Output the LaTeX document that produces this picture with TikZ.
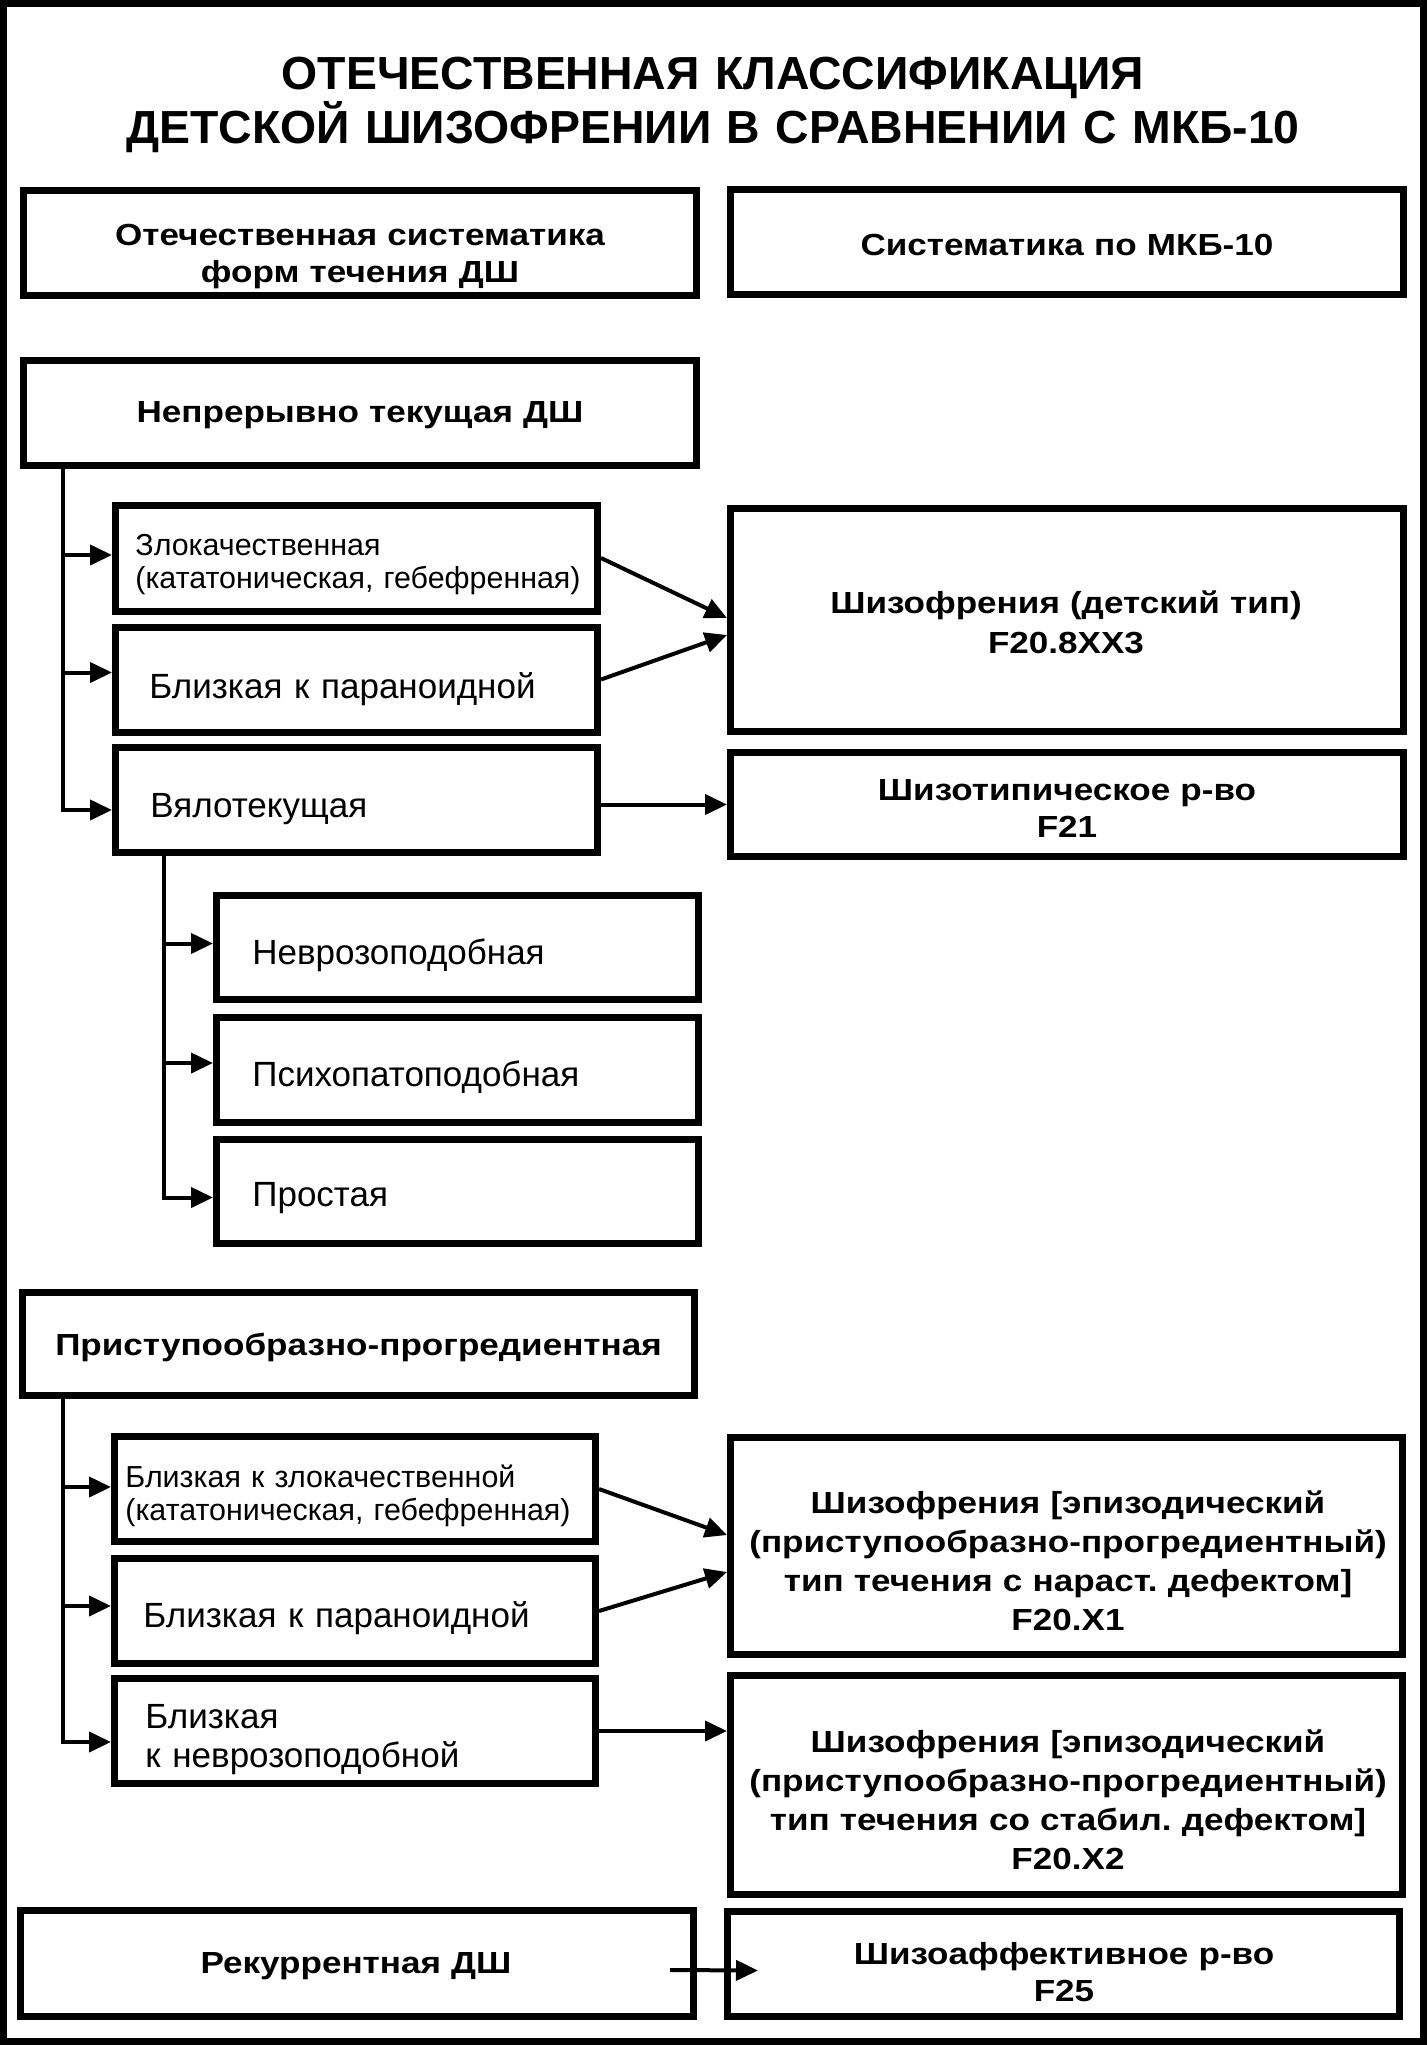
\documentclass[tikz,border=0pt]{standalone}
\usepackage{fontspec}
\setmainfont{Liberation Sans}
\newfontfamily\hdfont[FakeStretch=1.15]{Liberation Sans Bold}
\usetikzlibrary{arrows.meta}
\frenchspacing
\begin{document}
\frenchspacing
\begin{tikzpicture}[x=0.5pt,y=-0.5pt,
  frame/.style={line width=3.5pt},
  box/.style={draw, line width=3.5pt, outer sep=1.75pt, inner sep=0pt},
  ctext/.style={inner sep=0pt, anchor=base, align=center, text width=330pt,
    font=\hdfont\fontsize{15.25}{19.5}\selectfont},
  ltext/.style={inner sep=0pt, anchor=base west, align=left, text width=235pt,
    font=\fontsize{17.5}{19.5}\selectfont},
  lsmall/.style={font=\fontsize{15.2}{16.5}\selectfont},
  arr/.style={line width=2pt, -{Triangle[length=11pt,width=10pt]}}
]
\fill[white] (0,0) rectangle (1428,2045);
\useasboundingbox (0,0) rectangle (1428,2045);
\draw[frame] (3.5,3.5) rectangle (1423,2041.5);

\node[inner sep=0pt, anchor=base, align=center, text width=700pt,
  font=\bfseries\fontsize{23.2}{27.5}\selectfont] (title) at (713,89)
  {ОТЕЧЕСТВЕННАЯ КЛАССИФИКАЦИЯ\\ДЕТСКОЙ ШИЗОФРЕНИИ В СРАВНЕНИИ С МКБ-10};

% ---------- boxes ----------
\node[box, minimum width=336.5pt, minimum height=52.5pt] (H1) at (360,243) {};
\node[box, minimum width=336.5pt, minimum height=52.5pt] (H2) at (1067,242) {};
\node[box, minimum width=336.5pt, minimum height=52.5pt] (A) at (360,413) {};
\node[box, minimum width=241pt, minimum height=53pt] (A1) at (356.5,558) {};
\node[box, minimum width=241pt, minimum height=52.5pt] (A2) at (356.5,679.5) {};
\node[box, minimum width=241pt, minimum height=52.5pt] (A3) at (356.5,800) {};
\node[box, minimum width=241pt, minimum height=52pt] (A31) at (457.5,947.5) {};
\node[box, minimum width=241pt, minimum height=52.5pt] (A32) at (457.5,1070) {};
\node[box, minimum width=241pt, minimum height=52pt] (A33) at (457.5,1191.5) {};
\node[box, minimum width=336.5pt, minimum height=111.5pt] (R1) at (1067,620) {};
\node[box, minimum width=336.5pt, minimum height=52pt] (R2) at (1067,804.5) {};
\node[box, minimum width=336pt, minimum height=51.5pt] (B) at (358.5,1344) {};
\node[box, minimum width=240.5pt, minimum height=52.5pt] (B1) at (355,1489) {};
\node[box, minimum width=240.5pt, minimum height=52.5pt] (B2) at (355,1611) {};
\node[box, minimum width=240.5pt, minimum height=52.5pt] (B3) at (355,1731) {};
\node[box, minimum width=336pt, minimum height=108.5pt] (R3) at (1066.5,1546) {};
\node[box, minimum width=336pt, minimum height=109.5pt] (R4) at (1066.5,1785) {};
\node[box, minimum width=336.5pt, minimum height=53pt] (C) at (357,1963.5) {};
\node[box, minimum width=336pt, minimum height=52.5pt] (R5) at (1063.5,1964) {};

% ---------- texts ----------
\node[ctext, font=\hdfont\fontsize{15.25}{18.5}\selectfont] (tH1) at (360,245) {Отечественная систематика\\форм течения ДШ};
\node[ctext] (tH2) at (1067,255) {Систематика по МКБ-10};
\node[ctext] (tA) at (360,422) {Непрерывно текущая ДШ};
\node[ltext, lsmall] (tA1) at (135,555) {\mbox{Злокачественная}\\\mbox{(кататоническая, гебефренная)}};
\node[ltext] (tA2) at (149,698) {\mbox{Близкая к параноидной}};
\node[ltext] (tA3) at (150,817) {\mbox{Вялотекущая}};
\node[ltext] (tA31) at (252,964) {\mbox{Неврозоподобная}};
\node[ltext] (tA32) at (252,1086) {\mbox{Психопатоподобная}};
\node[ltext] (tA33) at (252,1206) {\mbox{Простая}};
\node[ctext, font=\hdfont\fontsize{15.25}{20}\selectfont] (tR1) at (1066,613) {Шизофрения (детский тип)\\F20.8XX3};
\node[ctext, font=\hdfont\fontsize{15.25}{18.5}\selectfont] (tR2) at (1067,800) {Шизотипическое р-во\\F21};
\node[ctext] (tB) at (358.5,1355) {Приступообразно-прогредиентная};
\node[ltext, lsmall] (tB1) at (125,1487) {\mbox{Близкая к злокачественной}\\\mbox{(кататоническая, гебефренная)}};
\node[ltext] (tB2) at (143,1627) {\mbox{Близкая к параноидной}};
\node[ltext] (tB3) at (145,1728) {\mbox{Близкая}\\\mbox{к неврозоподобной}};
\node[ctext] (tR3) at (1068,1513)
  {Шизофрения [эпизодический\\(приступообразно-прогредиентный)\\тип течения с нараст. дефектом]\\F20.X1};
\node[ctext] (tR4) at (1068,1752)
  {Шизофрения [эпизодический\\(приступообразно-прогредиентный)\\тип течения со стабил. дефектом]\\F20.X2};
\node[ctext] (tC) at (356,1973) {Рекуррентная ДШ};
\node[ctext, font=\hdfont\fontsize{15.25}{18.5}\selectfont] (tR5) at (1064,1964) {Шизоаффективное р-во\\F25};

% ---------- connectors ----------
\coordinate (kA) at (63,469);
\coordinate (kV) at (164,856);
\coordinate (kB) at (63,1399);
\draw[arr] (kA) |- ([yshift=1.5pt]A1.west);
\draw[arr] (kA) |- ([yshift=3.5pt]A2.west);
\draw[arr] (kA) |- ([yshift=-5pt]A3.west);
\draw[arr] (kV) |- ([yshift=2pt]A31.west);
\draw[arr] (kV) |- ([yshift=3.5pt]A32.west);
\draw[arr] (kV) |- ([yshift=-3pt]A33.west);
\draw[arr] (kB) |- ([yshift=1pt]B1.west);
\draw[arr] (kB) |- ([yshift=2.5pt]B2.west);
\draw[arr] (kB) |- ([yshift=-5.5pt]B3.west);

\draw[arr] (A1.east) -- ([yshift=1pt]R1.west);
\draw[arr] (A2.east) -- ([yshift=-7.5pt]R1.west);
\draw[arr] (R2.west -| A3.east) -- (R2.west);
\draw[arr] (B1.east) -- ([yshift=5.5pt]R3.west);
\draw[arr] (B2.east) -- ([yshift=-13pt]R3.west);
\draw[arr] (B3.east) -- (B3.east -| R4.west);
\draw[arr] ([xshift=-13.5pt,yshift=-3.25pt]C.east) -- ([xshift=17pt,yshift=-3.25pt]R5.west);
\end{tikzpicture}
\end{document}
